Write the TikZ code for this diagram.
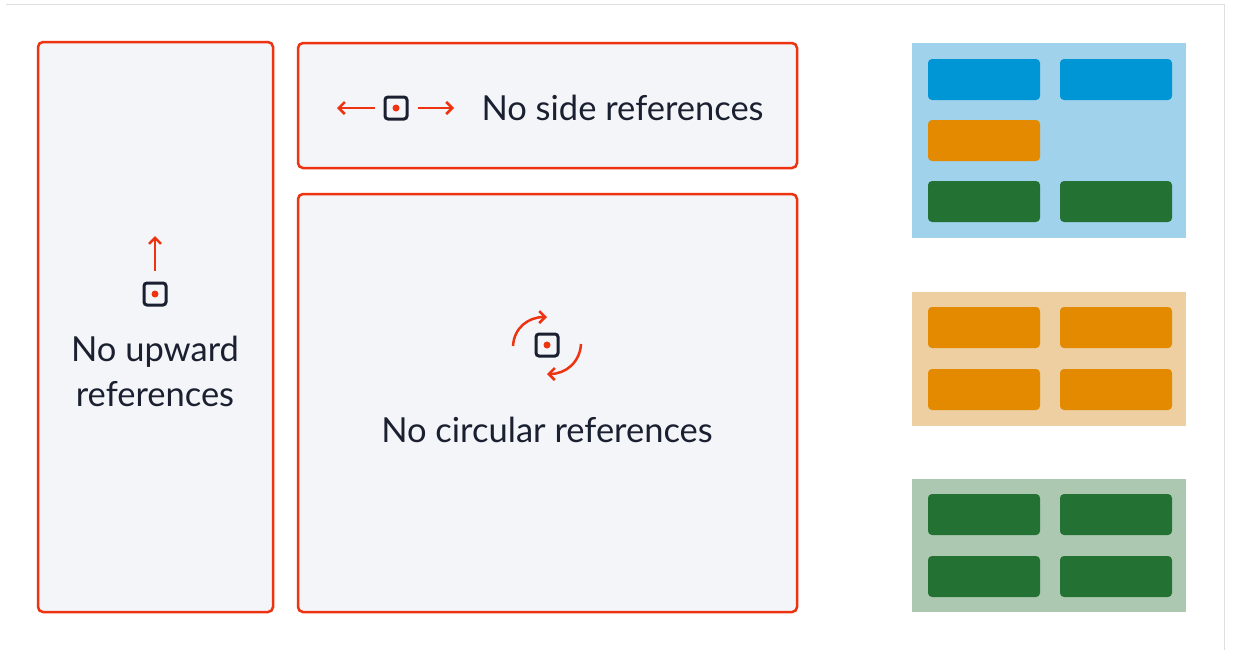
\documentclass[tikz,border=0pt]{standalone}
\usepackage{fontspec}
\setmainfont{Lato}
\usetikzlibrary{arrows.meta,shadows}
\definecolor{redc}{HTML}{EE3311}
\definecolor{panel}{HTML}{F4F5F9}
\definecolor{dark}{HTML}{1A2030}
\definecolor{blu}{HTML}{0095D5}
\definecolor{blubg}{HTML}{A0D2EC}
\definecolor{org}{HTML}{E38A00}
\definecolor{orgbg}{HTML}{EDCFA1}
\definecolor{grn}{HTML}{237233}
\definecolor{grnbg}{HTML}{ADC8B1}
\begin{document}
\begin{tikzpicture}[x=1pt,y=-1pt,
  rbox/.style={draw=redc,line width=2.5,fill=panel,rounded corners=5},
  btn/.style={rounded corners=4,draw=none},
  icon/.style={draw=dark,line width=3,rounded corners=3,minimum size=22,inner sep=0,fill=panel},
  arr/.style={draw=redc,line width=2.5,-{Straight Barb[length=6,width=12]}},
  lbl/.style={font=\fontsize{34.5}{45}\selectfont,text=dark,align=center}]
\useasboundingbox (0,0) rectangle (1238,665);
\fill[white,drop shadow={shadow xshift=1,shadow yshift=-1,opacity=0.25}] (5,5) rectangle (1224,651);
\draw[rbox] (38,42) rectangle (273,612);
\draw[rbox] (298,43) rectangle (797,168);
\draw[rbox] (298,194) rectangle (797,612);
% top box
\node[icon] (s1) at (396,108) {};
\fill[redc] (s1.center) circle (3.5);
\coordinate (l1) at (337,108); \coordinate (r1) at (454,108);
\draw[arr] ([xshift=-9]s1.west) -- (l1);
\draw[arr] ([xshift=9]s1.east) -- (r1);
\node[lbl,anchor=west] (t1) at (478,108) {No side references};
% left box
\node[icon] (s2) at (155,294) {};
\fill[redc] (s2.center) circle (3.5);
\coordinate (u2) at (155,236);
\draw[arr] ([yshift=11]s2.north) -- (u2);
\node[lbl] (t2) at (155,371) {No upward\\references};
% circular
\node[icon] (s3) at (547,345) {};
\fill[redc] (s3.center) circle (3.5);
\coordinate (c1) at (547,317); \coordinate (c2) at (547,374);
\draw[arr] (513,346) .. controls (514,328) and (528,317) .. (c1);
\draw[arr] (581,344) .. controls (580,362) and (566,374) .. (c2);
\node[lbl] (t3) at (547,430) {No circular references};
% right panels
\fill[blubg] (912,43) rectangle (1186,238);
\fill[blu,btn] (928,59) rectangle (1040,100);
\fill[blu,btn] (1060,59) rectangle (1172,100);
\fill[org,btn] (928,120) rectangle (1040,161);
\fill[grn,btn] (928,181) rectangle (1040,222);
\fill[grn,btn] (1060,181) rectangle (1172,222);
\fill[orgbg] (912,292) rectangle (1186,426);
\fill[org,btn] (928,307) rectangle (1040,348);
\fill[org,btn] (1060,307) rectangle (1172,348);
\fill[org,btn] (928,369) rectangle (1040,410);
\fill[org,btn] (1060,369) rectangle (1172,410);
\fill[grnbg] (912,479) rectangle (1186,612);
\fill[grn,btn] (928,494) rectangle (1040,535);
\fill[grn,btn] (1060,494) rectangle (1172,535);
\fill[grn,btn] (928,556) rectangle (1040,597);
\fill[grn,btn] (1060,556) rectangle (1172,597);
\end{tikzpicture}
\end{document}
